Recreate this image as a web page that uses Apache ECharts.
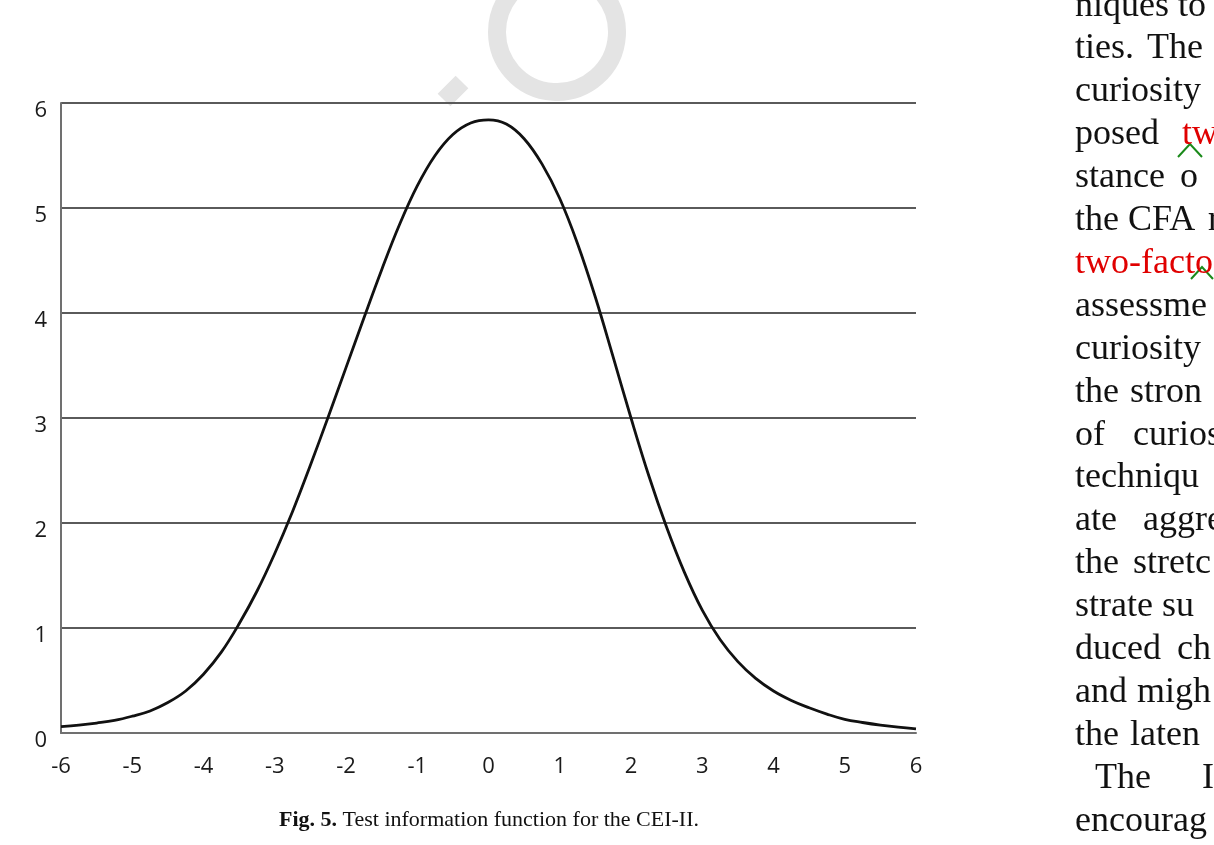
<!DOCTYPE html>
<html>
<head>
<meta charset="utf-8">
<script src="https://cdn.jsdelivr.net/npm/echarts@6/dist/echarts.min.js"></script>
<style>
html,body{margin:0;padding:0;background:#fff;}
#chart{width:1214px;height:845px;}
</style>
</head>
<body>
<div id="chart"></div>
<script>
// Ability (theta) values on the x axis
const theta = [-6,-5.75,-5.5,-5.25,-5,-4.75,-4.5,-4.25,-4,-3.75,-3.5,-3.25,-3,-2.75,-2.5,-2.25,-2,-1.75,-1.5,-1.25,-1,-0.75,-0.5,-0.25,0,
  0.25,0.5,0.75,1,1.25,1.5,1.75,2,2.25,2.5,2.75,3,3.25,3.5,3.75,4,4.25,4.5,4.75,5,5.25,5.5,5.75,6];
// Test information
const information = [0.06,0.075,0.095,0.12,0.16,0.21,0.29,0.40,0.56,0.77,1.04,1.35,1.71,2.11,2.55,3.01,3.48,3.95,4.41,4.84,5.21,5.50,5.70,5.81,5.84,
  5.80,5.66,5.42,5.09,4.66,4.15,3.58,3.00,2.45,1.96,1.53,1.17,0.89,0.68,0.52,0.40,0.31,0.24,0.18,0.13,0.10,0.075,0.055,0.04];
const xTicks = {min:-6, max:6, step:1};
const yTicks = {min:0, max:6, step:1};
const caption = {bold:'Fig. 5.', rest:' Test information function for the CEI-II.'};
// Adjacent page column text (word, x, line index, colour)
const sideWords = [
  ['niques to',1075,0,'#111'],
  ['ties.',1075,1,'#111'],['The',1147,1,'#111'],
  ['curiosity',1075,2,'#111'],
  ['posed',1075,3,'#111'],['tw',1182,3,'#e00000'],
  ['stance',1075,4,'#111'],['o',1180,4,'#111'],
  ['the',1075,5,'#111'],['CFA',1128,5,'#111'],['r',1208,5,'#111'],
  ['two-facto',1075,6,'#e00000'],
  ['assessme',1075,7,'#111'],
  ['curiosity',1075,8,'#111'],
  ['the',1075,9,'#111'],['stron',1130,9,'#111'],
  ['of',1075,10,'#111'],['curios',1133,10,'#111'],
  ['techniqu',1075,11,'#111'],
  ['ate',1075,12,'#111'],['aggre',1143,12,'#111'],
  ['the',1075,13,'#111'],['stretc',1133,13,'#111'],
  ['strate',1075,14,'#111'],['su',1162,14,'#111'],
  ['duced',1075,15,'#111'],['ch',1177,15,'#111'],
  ['and',1075,16,'#111'],['migh',1137,16,'#111'],
  ['the',1075,17,'#111'],['laten',1130,17,'#111'],
  ['The',1095,18,'#111'],['I',1202,18,'#111'],
  ['encourag',1075,19,'#111']
];

const chart = echarts.init(document.getElementById('chart'), null, {renderer:'canvas'});

const graphics = [];
// watermark fragment
graphics.push({type:'arc', shape:{cx:557, cy:32, r:60, startAngle:-0.72, endAngle:3.84, clockwise:true},
  style:{stroke:'#e4e4e4', lineWidth:18, fill:null}, z:0, silent:true});
graphics.push({type:'line', shape:{x1:444, y1:100, x2:462, y2:82}, style:{stroke:'#e4e4e4', lineWidth:18}, z:0, silent:true});

sideWords.forEach(w => {
  graphics.push({type:'text', x:w[1], y:31 + 42.9*(w[2]-1),
    style:{text:w[0], fill:w[3], font:'36px "Liberation Serif", serif'}, z:5});
});
// green insertion carets
graphics.push({type:'polyline', shape:{points:[[1178,157],[1190,144],[1202,157]]}, style:{stroke:'#1a8a1a', lineWidth:2, fill:null}});
graphics.push({type:'polyline', shape:{points:[[1191,279],[1202,267],[1213,279]]}, style:{stroke:'#1a8a1a', lineWidth:2, fill:null}});

graphics.push({type:'text', x:489, y:820,
  style:{text:'{b|'+caption.bold+'}{r|'+caption.rest+'}', textAlign:'center', textVerticalAlign:'middle',
    rich:{b:{fontFamily:'"Liberation Serif", serif', fontWeight:'bold', fontSize:22, fill:'#111'},
          r:{fontFamily:'"Liberation Serif", serif', fontSize:22, fill:'#111'}}}});

chart.setOption({
  animation:false,
  backgroundColor:'#fff',
  grid:{left:61, right:298, top:103, bottom:112, containLabel:false},
  xAxis:{type:'value', min:xTicks.min, max:xTicks.max, interval:xTicks.step,
    axisLine:{show:true, onZero:false, lineStyle:{color:'#707070', width:2}},
    axisTick:{show:false},
    splitLine:{show:false},
    axisLabel:{color:'#1a1a1a', fontSize:22, fontFamily:'"Open Sans", sans-serif', margin:23}},
  yAxis:{type:'value', min:yTicks.min, max:yTicks.max, interval:yTicks.step,
    axisLine:{show:true, onZero:false, lineStyle:{color:'#707070', width:2}},
    axisTick:{show:false},
    splitLine:{show:true, lineStyle:{color:'#5a5a5a', width:2}},
    axisLabel:{color:'#1a1a1a', fontSize:22, fontFamily:'"Open Sans", sans-serif', margin:14,
      formatter:'{a|{value}}', rich:{a:{fontSize:22, fontFamily:'"Open Sans", sans-serif', color:'#1a1a1a', padding:[16,0,0,0]}}}},
  series:[{type:'line', data:theta.map((t,i)=>[t, information[i]]), smooth:0.4, showSymbol:false,
    lineStyle:{color:'#111', width:2.8}, z:3}],
  graphic:graphics
});
</script>
</body>
</html>
